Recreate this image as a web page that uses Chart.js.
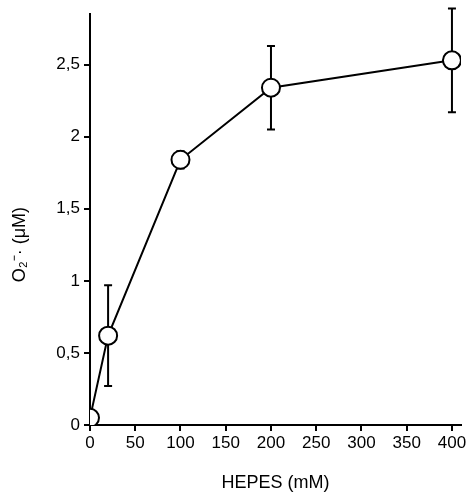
<!DOCTYPE html>
<html><head><meta charset="utf-8">
<script src="https://cdn.jsdelivr.net/npm/chart.js@4"></script>
<style>html,body{margin:0;background:#fff}#wrap{width:474px;height:494px}</style>
</head><body><div id="wrap"><canvas id="c"></canvas></div>
<script>
const hepes = [0, 20, 100, 200, 400];
const o2 = [0.05, 0.62, 1.84, 2.34, 2.53];
const err = [0, 0.35, 0.06, 0.29, 0.36];
const xTicks = [0, 50, 100, 150, 200, 250, 300, 350, 400];
const yTicks = [0, 0.5, 1, 1.5, 2, 2.5];

const errorBars = {
  id: 'errorBars',
  beforeDatasetsDraw(chart) {
    const { ctx, scales: { x, y } } = chart;
    ctx.save();
    ctx.strokeStyle = '#000'; ctx.lineWidth = 2;
    hepes.forEach((h, i) => {
      if (!err[i]) return;
      const px = x.getPixelForValue(h);
      const t = y.getPixelForValue(o2[i] + err[i]), b = y.getPixelForValue(o2[i] - err[i]);
      ctx.beginPath();
      ctx.moveTo(px, t); ctx.lineTo(px, b);
      ctx.moveTo(px - 4, t); ctx.lineTo(px + 4, t);
      ctx.moveTo(px - 4, b); ctx.lineTo(px + 4, b);
      ctx.stroke();
    });
    ctx.restore();
  }
};

const yTitle = {
  id: 'yTitle',
  afterDraw(chart) {
    const { ctx, chartArea } = chart;
    ctx.save();
    ctx.translate(20, (chartArea.top + chartArea.bottom) / 2 + 25);
    ctx.rotate(-Math.PI / 2);
    ctx.fillStyle = '#000';
    ctx.font = '18px "Liberation Sans", Arial, sans-serif';
    ctx.textAlign = 'center'; ctx.textBaseline = 'middle';
    ctx.fillText('O\u2082\u207B\u00B7 (\u03BCM)', 0, 0);
    ctx.restore();
  }
};

const font = { size: 17, family: '"Liberation Sans", Arial' };

new Chart(document.getElementById('c'), {
  type: 'scatter',
  data: { datasets: [{
    data: hepes.map((h, i) => ({ x: h, y: o2[i] })),
    showLine: true, borderColor: '#000', borderWidth: 2,
    pointRadius: 9, pointBackgroundColor: '#fff', pointBorderColor: '#000', pointBorderWidth: 2
  }]},
  options: {
    responsive: true, maintainAspectRatio: false, animation: false,
    layout: { padding: { top: 0, right: 13, left: 0, bottom: 0 } },
    plugins: { legend: { display: false }, tooltip: { enabled: false } },
    scales: {
      x: {
        type: 'linear', min: 0, max: 410,
        afterBuildTicks: s => { s.ticks = xTicks.map(v => ({ value: v })); },
        afterFit: s => { s.height = 69; },
        grid: { display: true, drawOnChartArea: false, tickLength: 6, color: '#000', lineWidth: 2 },
        border: { color: '#000', width: 2 },
        ticks: { color: '#000', font, maxRotation: 0, padding: 2 },
        title: { display: true, text: 'HEPES (mM)', color: '#000', padding: 0, font: { size: 18, family: '"Liberation Sans", Arial' } }
      },
      y: {
        min: 0, max: 2.85,
        afterBuildTicks: s => { s.ticks = yTicks.map(v => ({ value: v })); },
        afterFit: s => { s.width = 90; },
        grid: { display: true, drawOnChartArea: false, tickLength: 6, color: '#000', lineWidth: 2 },
        border: { color: '#000', width: 2 },
        ticks: { color: '#000', font, padding: 4,
          callback: v => String(v).replace('.', ',') }
      }
    }
  },
  plugins: [errorBars, yTitle]
});
</script></body></html>
